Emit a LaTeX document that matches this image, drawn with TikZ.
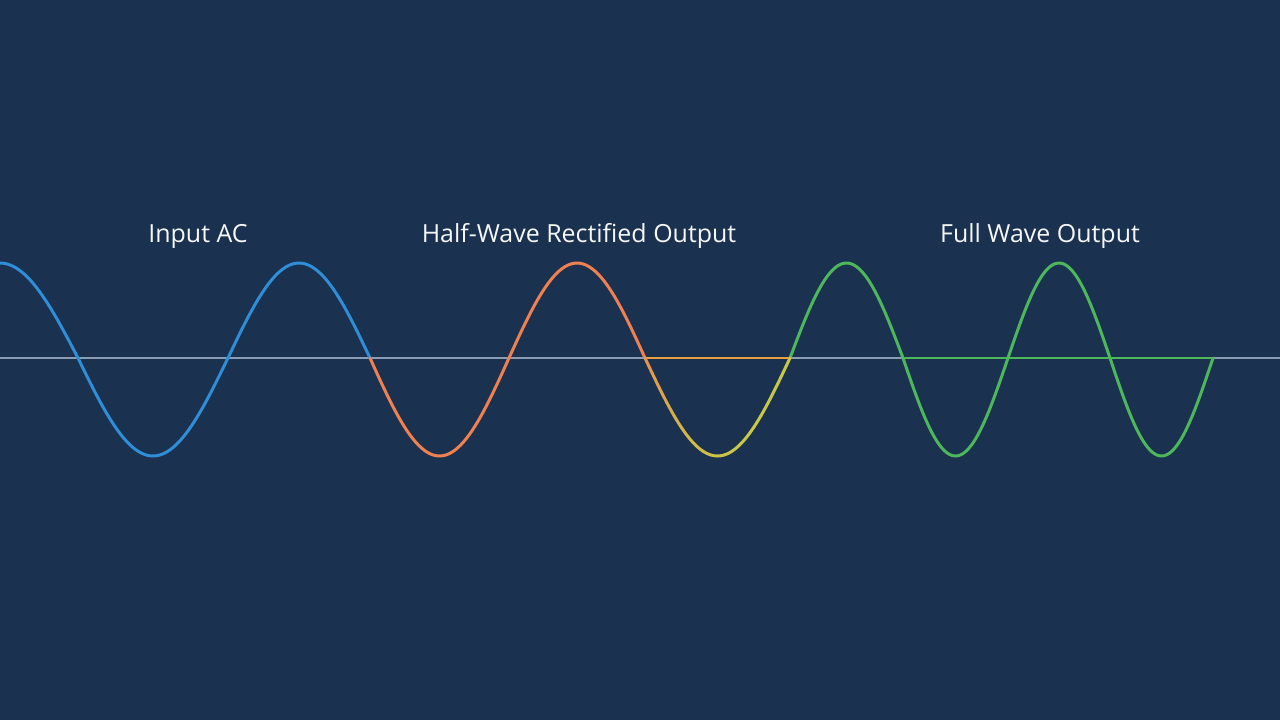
\documentclass[tikz,border=0pt]{standalone}
\usepackage{fontspec}
\setmainfont{Open Sans}

\definecolor{bgnavy}{HTML}{1A3150}
\definecolor{axisgray}{HTML}{8A9DB5}
\definecolor{acblue}{HTML}{2E8FD8}
\definecolor{hworange}{HTML}{F08050}
\definecolor{hwflat}{HTML}{E8A040}
\definecolor{hwyellow}{HTML}{C8C848}
\definecolor{fwgreen}{HTML}{4CB85A}

\begin{document}
\begin{tikzpicture}[x=0.02cm,y=-0.02cm]
  % some styles
  \tikzset{
    wave/.style={line width=1.7pt, line cap=round, line join=round},
    label/.style={text=white!92!axisgray, font=\fontsize{14.2}{16}\selectfont, inner sep=0pt}
  }

\fill[bgnavy] (0,0) rectangle (1280,720);
\useasboundingbox (0,0) rectangle (1280,720);

% axis
\coordinate (axl) at (0,358);
\coordinate (axr) at (1280,358);
\draw[axisgray, line width=0.8pt] (axl) -- (axr);

% titles
\node[label] (lblin) at (198,236) {Input AC};
\node[label] (lblhalf) at (579,236) {Half-Wave Rectified Output};
\node[label] (lblfull) at (1040,236) {Full Wave Output};

% input ac, amplitude signed (+ = down)
\draw[wave, acblue] plot[domain=0:90, samples=30] ({\x/90*78}, {358-95*cos(\x)});
\foreach \a/\b/\s/\c in {78/228/98/acblue, 228/370/-95/acblue,
                         370/509/98/hworange, 509/645/-95/hworange,
                         790/903/-95/fwgreen, 903/1008/98/fwgreen,
                         1008/1110/-95/fwgreen, 1110/1213/98/fwgreen}
    \draw[wave, \c] plot[domain=0:180, samples=50] ({\a+(\b-\a)/180*\x}, {358+\s*sin(\x)});

% flat parts
\coordinate (hwa) at (645,358);
\coordinate (hwb) at (790,358);
\coordinate (fwa) at (903,358);
\coordinate (fwb) at (1213,358);
\draw[wave, hwflat] (hwa) -- (hwb);
\draw[wave, fwgreen] (fwa) -- (fwb);

% blocked half, orange into yellow
\foreach \k in {0,...,19} {
    \pgfmathsetmacro\ta{\k*9}
    \pgfmathsetmacro\tb{(\k+1)*9}
    \pgfmathtruncatemacro\p{70*(1-\k/20)^3}
    \draw[wave, hworange!\p!hwyellow] plot[domain=\ta:\tb, samples=5] ({645+\x/180*145}, {358+98*sin(\x)});
}

\end{tikzpicture}
\end{document}
